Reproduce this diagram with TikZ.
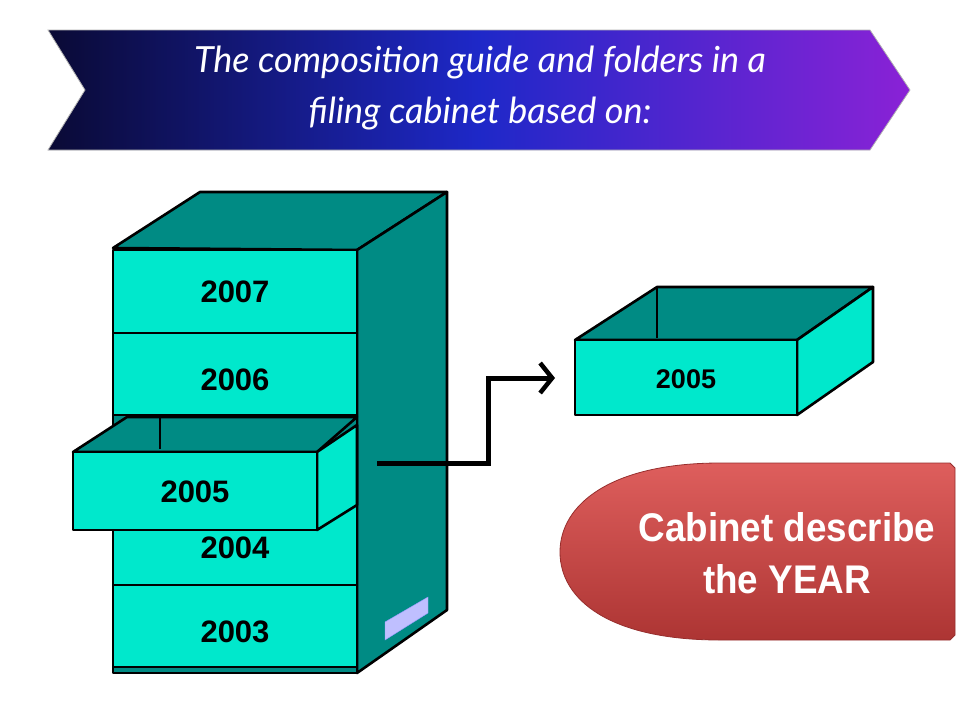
\documentclass[tikz,border=0pt]{standalone}
\usepackage{fontspec}
\setmainfont{Liberation Sans}
\newfontfamily\scriptf{Lato}
\usetikzlibrary{arrows.meta}
\definecolor{cyanf}{HTML}{00E8CC}
\definecolor{tealf}{HTML}{008B84}
\definecolor{redf}{HTML}{D84240}
\definecolor{navy}{HTML}{0A0A35}
\definecolor{bluem}{HTML}{1E28C8}
\definecolor{purp}{HTML}{8A22D6}
\tikzset{
 face/.style={draw=black,line width=2.6pt,line join=round},
 front/.style={face,fill=cyanf},
 side/.style={face,fill=tealf},
 yr/.style={font=\bfseries\fontsize{31}{34}\selectfont},
}
\begin{document}
\begin{tikzpicture}[x=1pt,y=-1pt]
\useasboundingbox[fill=white] (0,0) rectangle (960,720);
% banner
\shade[left color=navy,right color=purp,middle color=bluem,draw=gray!60,line width=0.8pt]
 (48,30) -- (870,30) -- (910,90) -- (870,150) -- (48,150) -- (85,90) -- cycle;
\node[text=white,font=\scriptf\itshape\fontsize{36}{51}\selectfont,align=center] (title) at (480,88)
 {The composition guide and folders in a\\ filing cabinet based on:};
% cabinet
\draw[side] (113,248) -- (200,192) -- (447,192) -- (357,250) -- cycle;
\draw[side] (357,250) -- (447,192) -- (447,610) -- (357,673) -- cycle;
\draw[front] (113,250) rectangle (357,333);
\draw[front] (113,333) rectangle (357,415);
\draw[side] (113,415) rectangle (357,452);
\draw[front] (113,452) rectangle (357,585);
\draw[front] (113,585) rectangle (357,667);
\draw[side] (113,667) rectangle (357,673);
\fill[blue!25,draw=blue!40] (385,622) -- (428,597) -- (428,613) -- (385,640) -- cycle;
% open drawer
\draw[side] (73,452) -- (127,417) -- (357,417) -- (317,452) -- cycle;
\draw[face] (160,417) -- (160,449);
\draw[front] (317,452) -- (357,425) -- (357,505) -- (317,530) -- cycle;
\draw[front] (73,452) rectangle (317,530);
\node[yr] (y7) at (235,292) {2007};
\node[yr] (y6) at (235,380) {2006};
\node[yr] (y5) at (195,492) {2005};
\node[yr] (y4) at (235,548) {2004};
\node[yr] (y3) at (235,632) {2003};
% box
\draw[side] (575,340) -- (657,287) -- (873,287) -- (797,340) -- cycle;
\draw[face] (657,287) -- (657,338);
\draw[front] (797,340) -- (873,287) -- (873,362) -- (797,415) -- cycle;
\draw[front] (575,340) rectangle (797,415);
\node[yr,font=\bfseries\fontsize{27}{30}\selectfont] (b5) at (686,379) {2005};
% arrow
\coordinate (a0) at (377,463);
\coordinate (a1) at (555,378);
\draw[line width=5pt,-{Straight Barb[length=12pt,width=30pt,line width=4.5pt]}] (a0) -- (488,463) -- (488,378) -- (a1);
% red shape
\shade[top color=redf!85!white,bottom color=redf!80!black,draw=redf!70!black,line width=0.8pt]
 (950,463) -- (720,463) .. controls (610,463) and (560,505) .. (560,552)
 .. controls (560,600) and (610,640) .. (720,640) -- (950,640) -- (955,635) -- (955,468) -- cycle;
\node[text=white,font=\bfseries\fontsize{40}{52}\selectfont,align=center,xscale=0.92] (cab) at (787,553)
 {Cabinet describe\\the YEAR};
\end{tikzpicture}
\end{document}
